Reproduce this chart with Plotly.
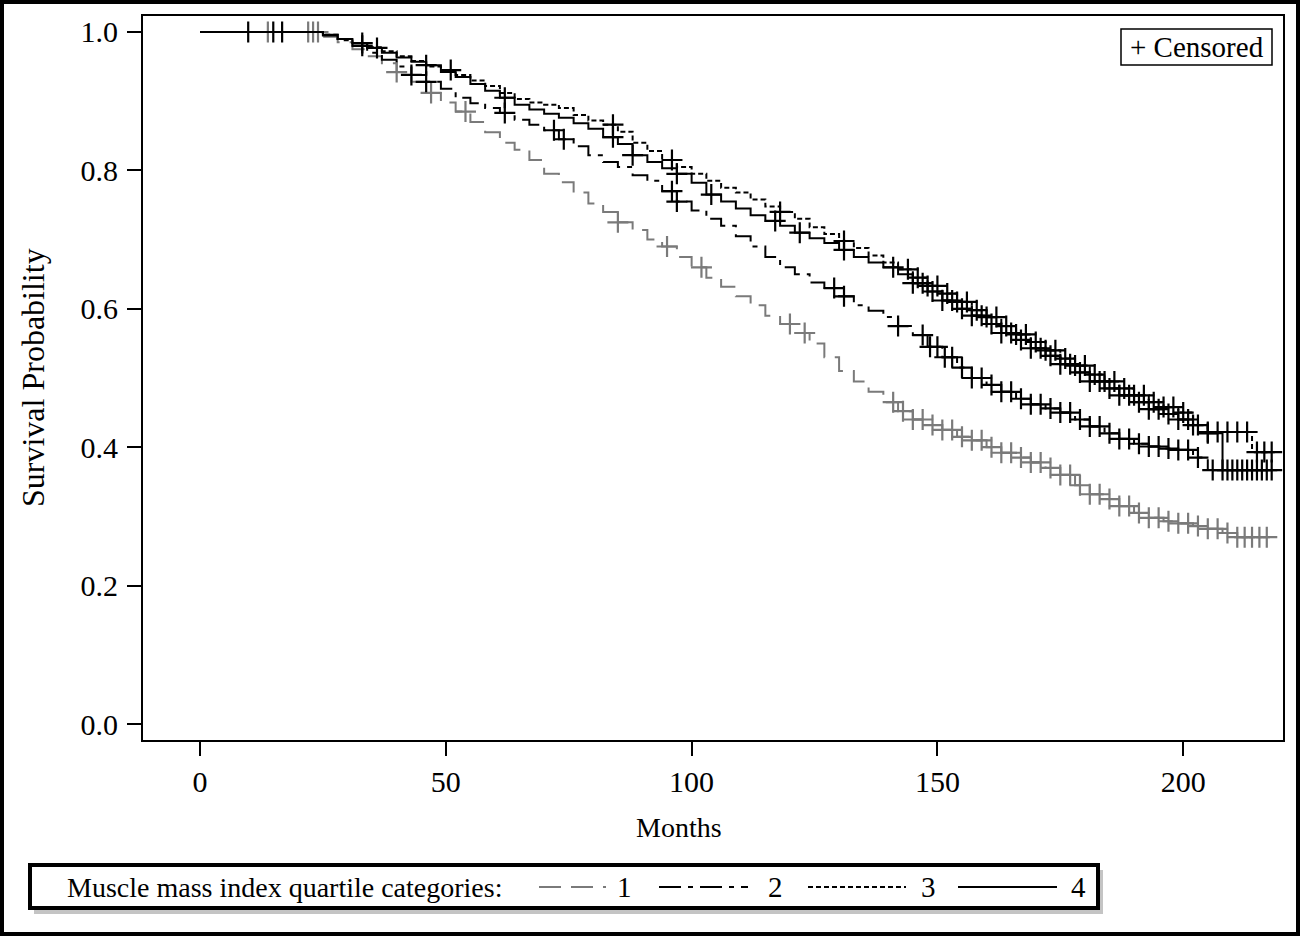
import numpy as np
import plotly.graph_objects as go

# ---------------- data ----------------
g1_t = [0, 25, 28, 31, 34, 37, 40, 43, 46, 49, 52, 55, 58, 61, 64, 67, 70, 73, 76, 79, 82, 85, 88, 91, 94, 97,
        100, 103, 106, 109, 112, 115, 118, 121, 124, 127, 130, 133, 136, 139, 142, 145, 148, 151, 154, 157, 160,
        163, 166, 169, 172, 175, 178, 181, 184, 187, 190, 193, 196, 199, 202, 205, 208, 211]
g1_s = [1.0, 0.993, 0.985, 0.975, 0.965, 0.955, 0.942, 0.928, 0.912, 0.898, 0.885, 0.87, 0.855, 0.84, 0.83, 0.815,
        0.795, 0.783, 0.768, 0.752, 0.74, 0.725, 0.714, 0.70, 0.69, 0.675, 0.66, 0.645, 0.632, 0.618, 0.605, 0.59,
        0.578, 0.565, 0.55, 0.53, 0.51, 0.495, 0.48, 0.465, 0.452, 0.44, 0.432, 0.425, 0.415, 0.41, 0.40, 0.392,
        0.385, 0.378, 0.37, 0.36, 0.345, 0.332, 0.325, 0.315, 0.305, 0.298, 0.293, 0.29, 0.286, 0.282, 0.276, 0.27]
g1_cens = [13.8, 22.0, 23.0, 24.0, 40, 47, 54, 85, 95, 102, 120, 123, 141, 143, 145, 147, 149, 151, 153, 155, 157,
           159, 161, 163, 165, 167, 169, 171, 173, 175, 177, 179, 181, 183, 185, 187, 189, 191, 193, 195, 197, 199,
           201, 203, 205, 207, 209, 211, 212.5, 214, 215.5, 217]

g2_t = [0, 25, 28, 31, 34, 37, 40, 43, 46, 49, 52, 55, 58, 61, 64, 67, 70, 73, 76, 79, 82, 85, 88, 91, 94, 97,
        100, 103, 106, 109, 112, 115, 118, 121, 124, 127, 130, 133, 136, 139, 142, 145, 148, 151, 154, 157, 160,
        163, 166, 169, 172, 175, 178, 181, 184, 187, 190, 193, 196, 199, 202, 205]
g2_s = [1.0, 0.995, 0.988, 0.98, 0.97, 0.96, 0.95, 0.938, 0.928, 0.918, 0.905, 0.897, 0.89, 0.883, 0.873, 0.866,
        0.858, 0.845, 0.835, 0.822, 0.812, 0.805, 0.793, 0.785, 0.77, 0.755, 0.742, 0.73, 0.72, 0.705, 0.69, 0.675,
        0.66, 0.65, 0.638, 0.63, 0.618, 0.605, 0.597, 0.588, 0.575, 0.562, 0.545, 0.53, 0.515, 0.5, 0.49, 0.48,
        0.47, 0.462, 0.456, 0.45, 0.44, 0.43, 0.42, 0.412, 0.405, 0.401, 0.398, 0.396, 0.385, 0.367]
g2_cens = [33, 43, 46, 62, 72, 74, 96, 97, 129, 131, 142, 147, 148.5, 150, 151.5, 153, 155, 157, 159, 161, 163,
           165, 167, 169, 171, 173, 175, 177, 179, 181, 183, 185, 187, 189, 191, 193, 195, 197, 199, 201, 203,
           206, 208, 210, 212, 214, 216, 218]

g3_t = [0, 25, 28, 31, 34, 37, 40, 43, 46, 49, 52, 55, 58, 61, 64, 67, 70, 73, 76, 79, 82, 85, 88, 91, 94, 97,
        100, 103, 106, 109, 112, 115, 118, 121, 124, 127, 130, 133, 136, 139, 142, 145, 148, 151, 154, 157, 160,
        163, 166, 169, 172, 175, 178, 181, 184, 187, 190, 193, 196, 199, 202, 205, 214]
g3_s = [1.0, 0.996, 0.99, 0.984, 0.978, 0.972, 0.965, 0.958, 0.95, 0.945, 0.938, 0.93, 0.922, 0.912, 0.903, 0.898,
        0.895, 0.89, 0.88, 0.872, 0.866, 0.856, 0.84, 0.828, 0.815, 0.805, 0.795, 0.785, 0.775, 0.768, 0.758, 0.748,
        0.74, 0.73, 0.718, 0.708, 0.698, 0.688, 0.677, 0.667, 0.657, 0.645, 0.633, 0.622, 0.61, 0.598, 0.588, 0.575,
        0.563, 0.552, 0.54, 0.528, 0.518, 0.505, 0.495, 0.485, 0.475, 0.465, 0.458, 0.45, 0.432, 0.422, 0.393]
g3_cens = [33, 51, 84, 96, 118, 131, 144, 146, 148, 150, 152, 154, 156, 158, 160, 162, 164, 166, 168, 170, 172,
           174, 176, 178, 180, 182, 184, 186, 188, 190, 192, 194, 196, 198, 200, 202, 205, 207, 209, 211, 213,
           215, 216.5, 218]

g4_t = [0, 25, 28, 31, 34, 37, 40, 43, 46, 49, 52, 55, 58, 61, 64, 67, 70, 73, 76, 79, 82, 85, 88, 91, 94, 97,
        100, 103, 106, 109, 112, 115, 118, 121, 124, 127, 130, 133, 136, 139, 142, 145, 148, 151, 154, 157, 160,
        163, 166, 169, 172, 175, 178, 181, 184, 187, 190, 193, 196, 199, 202, 205, 208]
g4_s = [1.0, 0.996, 0.99, 0.984, 0.977, 0.97, 0.963, 0.957, 0.952, 0.942, 0.935, 0.925, 0.915, 0.905, 0.895, 0.888,
        0.882, 0.876, 0.868, 0.86, 0.848, 0.838, 0.822, 0.812, 0.803, 0.795, 0.782, 0.765, 0.755, 0.745, 0.735,
        0.727, 0.72, 0.71, 0.702, 0.695, 0.685, 0.675, 0.667, 0.66, 0.65, 0.637, 0.625, 0.612, 0.6, 0.59, 0.578,
        0.565, 0.555, 0.543, 0.532, 0.52, 0.508, 0.495, 0.485, 0.475, 0.465, 0.455, 0.448, 0.44, 0.432, 0.42, 0.367]
g4_cens = [9.8, 14.9, 16.7, 36, 46, 62, 84, 88, 97, 104, 117, 122, 131, 141, 145, 147, 149, 151, 153, 155, 157,
           159, 161, 163, 165, 167, 169, 171, 173, 175, 177, 179, 181, 183, 185, 187, 189, 191, 193, 195, 197, 199,
           201, 203, 205, 209, 211, 213, 215, 217]

group_labels = ["1", "2", "3", "4"]
legend_title = "Muscle mass index quartile categories:"

# ---------------- styles ----------------
FONT = "Liberation Serif, Times New Roman, serif"
GRAY = "#7a7a7a"
styles = [
    dict(color=GRAY, dash="22px,10px"),
    dict(color="black", dash="22px,7px,5px,7px"),
    dict(color="black", dash="5px,3px"),
    dict(color="black", dash="solid"),
]

groups = [(g1_t, g1_s, g1_cens), (g2_t, g2_s, g2_cens), (g3_t, g3_s, g3_cens), (g4_t, g4_s, g4_cens)]

fig = go.Figure()
for (t, s, c), st in zip(groups, styles):
    t = np.asarray(t, float)
    s = np.asarray(s, float)
    c = np.asarray(c, float)
    tend = max(t[-1], c.max())
    xs = np.append(t, tend)
    ys = np.append(s, s[-1])
    fig.add_trace(go.Scatter(x=xs, y=ys, mode="lines", line=dict(color=st["color"], width=2, dash=st["dash"],
                                                                  shape="hv"),
                             showlegend=False, hoverinfo="skip"))
    idx = np.searchsorted(t, c, side="right") - 1
    fig.add_trace(go.Scatter(x=c, y=s[idx], mode="markers",
                             marker=dict(symbol="cross-thin", size=15, line=dict(color=st["color"], width=2.2)),
                             showlegend=False, hoverinfo="skip"))

# ---------------- layout geometry (pixels) ----------------
W, H = 1300, 936
L, R, T, B = 143, 1283, 16, 740


def px(x):
    return (x - L) / (R - L)


def py(y):
    return (B - y) / (B - T)


shapes = []
# outer frame
shapes.append(dict(type="rect", xref="paper", yref="paper", x0=px(2), x1=px(1298), y0=py(934), y1=py(2),
                   line=dict(color="black", width=4), layer="below"))
# legend shadow + box
shapes.append(dict(type="rect", xref="paper", yref="paper", x0=px(34), x1=px(1103), y0=py(914), y1=py(870),
                   fillcolor="#c4c4c4", line=dict(width=0)))
shapes.append(dict(type="rect", xref="paper", yref="paper", x0=px(30), x1=px(1098), y0=py(908), y1=py(865),
                   fillcolor="white", line=dict(color="black", width=4)))
# censored box
shapes.append(dict(type="rect", xref="paper", yref="paper", x0=px(1121), x1=px(1272), y0=py(65), y1=py(29),
                   fillcolor="white", line=dict(color="black", width=1.5)))

annotations = []
annotations.append(dict(text="+ Censored", xref="paper", yref="paper", x=px(1197), y=py(47), showarrow=False,
                        xanchor="center", yanchor="middle", font=dict(family=FONT, size=29, color="black")))
annotations.append(dict(text="Months", xref="paper", yref="paper", x=px(679), y=py(828), showarrow=False,
                        xanchor="center", yanchor="middle", font=dict(family=FONT, size=28, color="black")))
annotations.append(dict(text="Survival Probability", xref="paper", yref="paper", x=px(33), y=py(378),
                        showarrow=False, textangle=-90, xanchor="center", yanchor="middle",
                        font=dict(family=FONT, size=32, color="black")))
annotations.append(dict(text=legend_title, xref="paper", yref="paper", x=px(65), y=py(887), showarrow=False,
                        xanchor="left", yanchor="middle", font=dict(family=FONT, size=28, color="black")))

# legend samples
samples = [(539, 606, 624), (659, 748, 776), (808, 906, 928), (958, 1057, 1078)]
for (x0, x1, xl), st, lab in zip(samples, styles, group_labels):
    shapes.append(dict(type="line", xref="paper", yref="paper", x0=px(x0), x1=px(x1), y0=py(887), y1=py(887),
                       line=dict(color=st["color"], width=2, dash=st["dash"])))
    annotations.append(dict(text=lab, xref="paper", yref="paper", x=px(xl), y=py(887), showarrow=False,
                            xanchor="center", yanchor="middle", font=dict(family=FONT, size=29, color="black")))

fig.update_layout(
    width=W, height=H,
    margin=dict(l=L, r=W - R, t=T, b=H - B),
    paper_bgcolor="white", plot_bgcolor="white",
    font=dict(family=FONT, size=29, color="black"),
    shapes=shapes, annotations=annotations,
    showlegend=False,
)
fig.update_xaxes(range=[-11.6, 220.3], tickvals=[0, 50, 100, 150, 200], ticks="outside", ticklen=14,
                 tickwidth=2, tickcolor="black", showline=True, linecolor="black", linewidth=2, mirror=True,
                 showgrid=False, zeroline=False, tickfont=dict(family=FONT, size=30))
fig.update_yaxes(range=[-0.0231, 1.0231], tickvals=[0, 0.2, 0.4, 0.6, 0.8, 1.0], tickformat=".1f",
                 ticks="outside", ticklen=14, tickwidth=2, tickcolor="black", showline=True, linecolor="black",
                 linewidth=2, mirror=True, showgrid=False, zeroline=False, tickfont=dict(family=FONT, size=30),
                 ticklabelstandoff=3)

fig.write_html("out.html")
